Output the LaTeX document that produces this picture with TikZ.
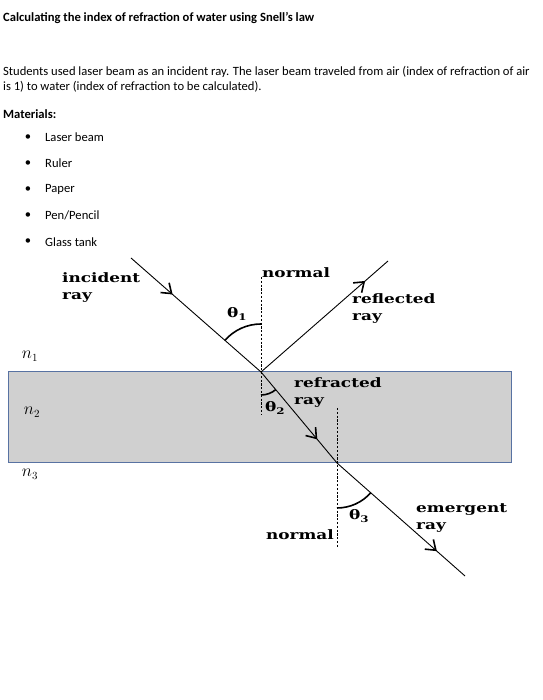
\documentclass[tikz,border=0pt]{standalone}
\usepackage{fontspec}
\setmainfont{Carlito}
\newfontfamily\lblfont[FakeStretch=1.3]{DejaVu Serif}
\usetikzlibrary{calc,decorations.markings}
\usetikzlibrary{arrows.meta}
\definecolor{tankfill}{RGB}{208,208,208}
\definecolor{tankedge}{RGB}{88,114,162}
\tikzset{
  ray/.style={line width=0.9pt},
  normalline/.style={line width=1pt,dash pattern=on 2.2pt off 1.6pt},
  anglearc/.style={line width=1.6pt},
  lbl/.style={font=\lblfont\bfseries\fontsize{13}{17}\selectfont,align=left,inner sep=0pt},
  bodytext/.style={font=\fontsize{12.6}{15.5}\selectfont,inner sep=0pt,align=left},
  rayarrow/.style={postaction={decorate},
    decoration={markings,mark=at position #1 with
      {\arrow{Straight Barb[length=9pt,width=13pt,line width=1.6pt]}}}}
}

\begin{document}
\begin{tikzpicture}[x=1pt,y=1pt]
\useasboundingbox (0,0) rectangle (542,700);

% heading and text
\node[bodytext,font=\bfseries\fontsize{12.6}{15}\selectfont,anchor=west] (title) at (3,682)
  {Calculating the index of refraction of water using Snell's law};
\node[bodytext,anchor=north west] (intro) at (3,634)
  {Students used laser beam as an incident ray. The laser beam traveled from air (index of refraction of air\\
   is 1) to water (index of refraction to be calculated).};
\node[bodytext,font=\bfseries\fontsize{12.6}{15}\selectfont,anchor=west] (materials) at (3,586) {Materials:};

% list
\foreach \item [count=\i] in {Laser beam,Ruler,Paper,Pen/Pencil,Glass tank}{
  \node[bodytext,anchor=center] (bul\i) at (28,{589-26.2*\i}) {\textbullet};
  \node[bodytext,anchor=west] (mat\i) at (45,{589-26.2*\i}) {\item};
}

% glass tank
\fill[tankfill] (8,237) rectangle (511,328);
\draw[tankedge,line width=1pt] (8,237) rectangle (511,328);

\coordinate (O1) at (261,328);  % top face
\coordinate (O2) at (337,237);  % bottom face
\coordinate (inc) at (131,442);
\coordinate (refl) at (388,439);
\coordinate (emer) at (465,124);
\coordinate (N1top) at (261,423);
\coordinate (N1bot) at (261,286);
\coordinate (N2top) at (337,292);
\coordinate (N2bot) at (337,153);

% normals
\draw[normalline] (N1top) -- (N1bot);
\draw[normalline] (N2top) -- (N2bot);

% rays
\draw[ray,rayarrow=0.32] (inc) -- (O1);
\draw[ray,rayarrow=0.82] (O1) -- (refl);
\draw[ray,rayarrow=0.74] (O1) -- (O2);
\draw[ray,rayarrow=0.78] (O2) -- (emer);

% angles
\draw[anglearc] ($(O1)+(90:48)$) arc[start angle=90,end angle=139,radius=48];
\draw[anglearc] ($(O1)+(-90:23)$) arc[start angle=-90,end angle=-50,radius=23];
\draw[anglearc] ($(O2)+(-90:45)$) arc[start angle=-90,end angle=-41,radius=45];

% labels
\node[lbl,anchor=west] (incl) at (62,412) {incident\\ray};
\node[lbl,anchor=west] (norml1) at (262,427) {normal};
\node[lbl,anchor=west] (refll) at (352,391) {reflected\\ray};
\node[lbl,anchor=west] (refrl) at (294,307) {refracted\\ray};
\node[lbl,anchor=west] (emerl) at (416,182) {emergent\\ray};
\node[lbl,anchor=east] (norml2) at (334,165) {normal};
\node[lbl] (th1) at (237,386) {θ\textsubscript{1}};
\node[lbl] (th2) at (275,292) {θ\textsubscript{2}};
\node[lbl] (th3) at (359,184) {θ\textsubscript{3}};

% indices
\node[font=\fontsize{16}{18}\selectfont] (n1) at (30,344) {$n_1$};
\node[font=\fontsize{16}{18}\selectfont] (n2) at (32,288) {$n_2$};
\node[font=\fontsize{16}{18}\selectfont] (n3) at (30,226) {$n_3$};

\end{tikzpicture}
\end{document}
